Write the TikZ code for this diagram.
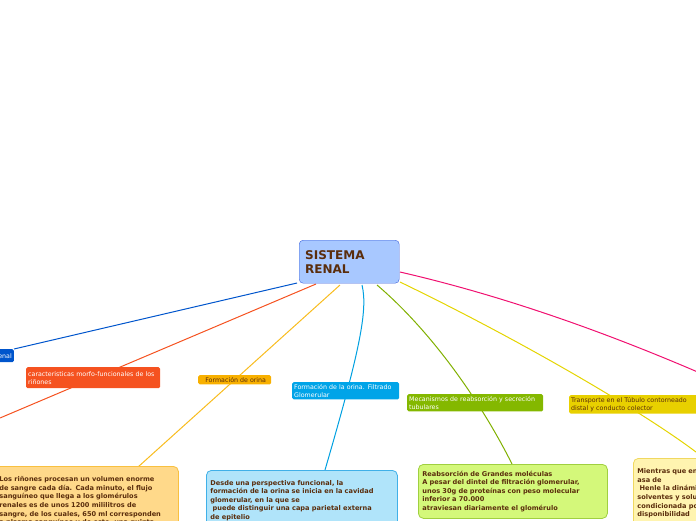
\documentclass[tikz,border=0pt]{standalone}
\usepackage{fontspec}
\setmainfont{DejaVu Sans}
\definecolor{brn}{HTML}{5A2D0C}
\tikzset{
 lab/.style={rounded corners=1.5pt,inner sep=2pt,font=\fontsize{6.3}{8}\selectfont,align=left,anchor=north west,text=white},
 box/.style={rounded corners=5pt,inner sep=4pt,font=\bfseries\fontsize{6.6}{8.6}\selectfont,align=left,anchor=north west,text=brn,line width=0.8pt},
 br/.style={line width=1pt}
}
\begin{document}
\begin{tikzpicture}[x=1pt,y=-1pt]
\useasboundingbox (0,0) rectangle (696,520);
\clip (0,0) rectangle (696,520);
\coordinate (p1) at (0,418);
\coordinate (p7) at (700,373);
\coordinate (s1) at (297,283);
\coordinate (s2) at (316,284);
\coordinate (s3) at (340,285);
\coordinate (s4) at (362,285);
\coordinate (s5) at (377,285);
\coordinate (s6) at (400,282);
\coordinate (s7) at (400,272);
\coordinate (t3) at (138,467);
\coordinate (t4) at (325,470);
\coordinate (t5) at (512,464);
\coordinate (t6) at (696,452);
\coordinate (t1) at (14,349);
\draw[br,draw={rgb,255:red,0;green,85;blue,204}] (s1) -- (t1);
\draw[br,draw={rgb,255:red,245;green,82;blue,32}] (s2) -- (p1);
\draw[br,draw={rgb,255:red,248;green,188;blue,30}] (s3) -- (t3);
\draw[br,draw={rgb,255:red,0;green,160;blue,224}] (s4) .. controls (368,310) and (360,350) .. (t4);
\draw[br,draw={rgb,255:red,128;green,176;blue,0}] (s5) .. controls (430,330) and (480,400) .. (t5);
\draw[br,draw={rgb,255:red,228;green,212;blue,0}] (s6) .. controls (520,340) and (640,410) .. (t6);
\draw[br,draw={rgb,255:red,240;green,16;blue,112}] (s7) .. controls (500,295) and (600,330) .. (p7);
\node[fill={rgb,255:red,0;green,85;blue,204},lab,anchor=north east,minimum height=13pt] (l1) at (t1) {Sistema renal};
\node[fill={rgb,255:red,245;green,82;blue,32},lab,text width=130pt,minimum height=21pt] (l2) at (26,367) {caracteristicas morfo-funcionales de los\\riñones};
\node[fill={rgb,255:red,248;green,176;blue,0},lab,text=brn,minimum width=73pt] (l3) at (198,375) {\ Formación de orina};
\node[fill={rgb,255:red,0;green,164;blue,232},lab,text width=103pt] (l4) at (292,382) {Formación de la orina. Filtrado\\Glomerular};
\node[fill={rgb,255:red,132;green,184;blue,0},lab,text width=132pt] (l5) at (407,394) {Mecanismos de reabsorción y secreción\\tubulares};
\node[fill={rgb,255:red,232;green,208;blue,0},lab,text=brn,text width=130pt] (l6) at (569,395) {Transporte en el Túbulo contorneado\\distal y conducto colector};
\node[box,draw={rgb,255:red,248;green,192;blue,64},fill={rgb,255:red,255;green,217;blue,138},text width=175pt,minimum height=70pt] (b3) at (-5,466) {Los riñones procesan un volumen enorme\\de sangre cada día. Cada minuto, el flujo\\sanguíneo que llega a los glomérulos\\renales es de unos 1200 mililitros de\\sangre, de los cuales, 650 ml corresponden\\a plasma sanguíneo y de este, una quinta};
\node[box,draw={rgb,255:red,64;green,176;blue,232},fill={rgb,255:red,176;green,228;blue,250},text width=183pt,minimum height=60pt] (b4) at (206,470) {Desde una perspectiva funcional, la\\formación de la orina se inicia en la cavidad\\glomerular, en la que se\\\ puede distinguir una capa parietal externa\\de epitelio};
\node[box,draw={rgb,255:red,160;green,208;blue,64},fill={rgb,255:red,212;green,248;blue,122},text width=181pt,minimum height=54pt] (b5) at (418,464) {Reabsorción de Grandes moléculas\\A pesar del dintel de filtración glomerular,\\unos 30g de proteínas con peso molecular\\inferior a 70.000\\atraviesan diariamente el glomérulo};
\node[box,draw={rgb,255:red,240;green,216;blue,96},fill={rgb,255:red,255;green,244;blue,176},text width=120pt,minimum height=70pt] (b6) at (633,458) {Mientras que en el\\asa de\\\ Henle la dinámica\\solventes y solutos\\condicionada por la\\disponibilidad};
\node[draw={rgb,255:red,64;green,100;blue,220},fill={rgb,255:red,168;green,200;blue,255},rounded corners=4pt,minimum width=100pt,minimum height=43pt,text width=88pt,align=left,font=\bfseries\fontsize{12}{14}\selectfont,text=brn,anchor=north west] (c) at (299,240) {SISTEMA\\RENAL};
\end{tikzpicture}
\end{document}
